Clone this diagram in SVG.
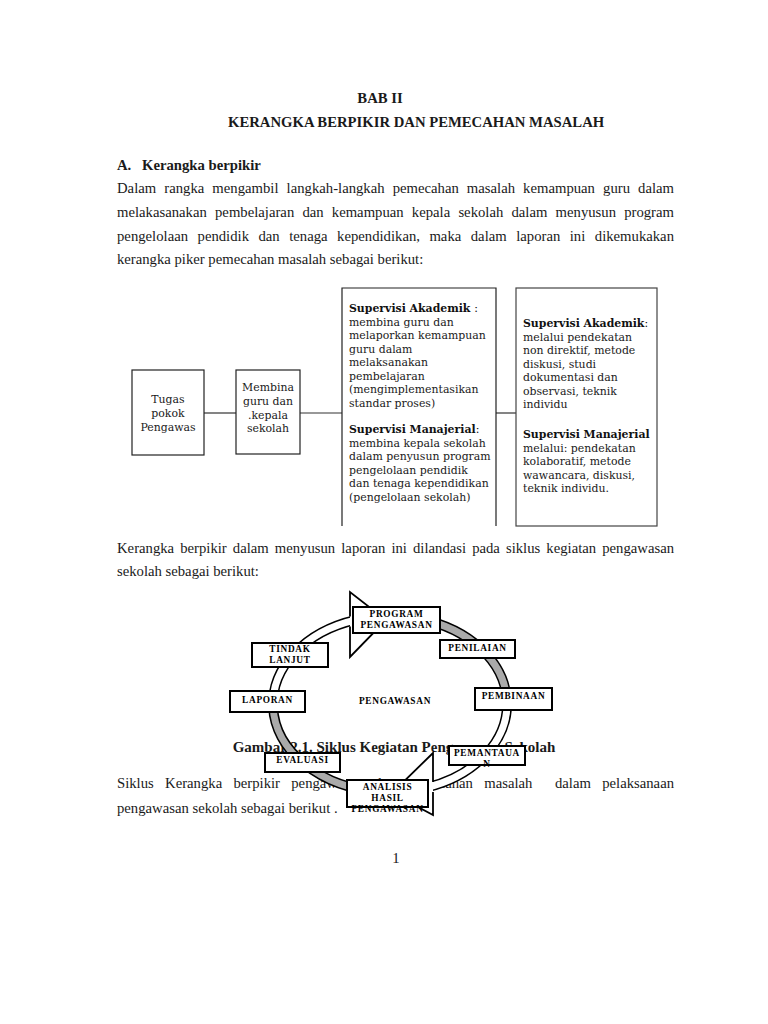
<svg xmlns="http://www.w3.org/2000/svg" width="768" height="1024" viewBox="0 0 768 1024">
<style>
.body{font-family:"Liberation Serif","Times New Roman",serif;font-size:14.7px;fill:#1a1a1a}
.bold{font-weight:bold}
.bx{font-family:"DejaVu Serif","Liberation Serif",serif;font-size:10.9px;fill:#1a1a1a}
.bxb{font-family:"DejaVu Serif","Liberation Serif",serif;font-size:10.9px;font-weight:bold;fill:#111}
.box{fill:#fff;stroke:#222;stroke-width:1.2}
.line{stroke:#333;stroke-width:1.2;fill:none}
.cb{fill:#fff;stroke:#000;stroke-width:2}
.cl{font-family:"Liberation Serif","Times New Roman",serif;font-size:9.3px;font-weight:bold;letter-spacing:0.7px;fill:#000;text-anchor:middle}
.bandO{fill:none;stroke:#000;stroke-width:10}
.bandW{fill:none;stroke:#fff;stroke-width:7}
.bandG{fill:none;stroke:#aaa;stroke-width:7}
.ah{fill:#fff;stroke:none}
.ahl{fill:none;stroke:#000;stroke-width:1.8;stroke-linejoin:miter}
</style>

<!-- Page text -->
<g id="page-text">
<text class="body bold" x="380" y="103" text-anchor="middle">BAB II</text>
<text class="body bold" x="228" y="127">KERANGKA BERPIKIR DAN PEMECAHAN MASALAH</text>
<text class="body bold" x="117" y="170">A.</text>
<text class="body bold" x="142" y="170">Kerangka berpikir</text>
<text class="body" x="117" y="193" word-spacing="4.4" textLength="557" lengthAdjust="spacing">Dalam rangka mengambil langkah-langkah pemecahan masalah kemampuan guru dalam</text>
<text class="body" x="117" y="217" word-spacing="4.5" textLength="557" lengthAdjust="spacing">melakasanakan pembelajaran dan kemampuan kepala sekolah dalam menyusun program</text>
<text class="body" x="117" y="241" word-spacing="5.8" textLength="557" lengthAdjust="spacing">pengelolaan pendidik dan tenaga kependidikan, maka dalam laporan ini dikemukakan</text>
<text class="body" x="117" y="264">kerangka piker pemecahan masalah sebagai berikut:</text>
<text class="body" x="117" y="553" word-spacing="2.4" textLength="557" lengthAdjust="spacing">Kerangka berpikir dalam menyusun laporan ini dilandasi pada siklus kegiatan pengawasan</text>
<text class="body" x="117" y="576">sekolah sebagai berikut:</text>
<text class="body bold" x="394" y="752" text-anchor="middle" style="font-size:15px">Gambar 2.1. Siklus Kegiatan Pengawasan Sekolah</text>
<text class="body" x="117" y="788" word-spacing="7.6" textLength="557" lengthAdjust="spacing" xml:space="preserve">Siklus Kerangka berpikir pengawasan dan pemecahan masalah  dalam pelaksanaan</text>
<text class="body" x="117" y="813">pengawasan sekolah sebagai berikut .</text>
<text class="body" x="396" y="863" text-anchor="middle">1</text>
</g>

<!-- Framework diagram connectors -->
<g id="connectors">
<line class="line" x1="204" y1="413" x2="236" y2="413"/>
<line class="line" x1="300" y1="413" x2="342" y2="413"/>
<line class="line" x1="496" y1="413" x2="516" y2="413"/>
</g>

<g id="node-tugas">
<rect class="box" x="132" y="370" width="72" height="85"/>
<text class="bx" x="168" y="403" text-anchor="middle">Tugas</text>
<text class="bx" x="168" y="417" text-anchor="middle">pokok</text>
<text class="bx" x="168" y="431" text-anchor="middle">Pengawas</text>
</g>

<g id="node-membina">
<rect class="box" x="236" y="370" width="64" height="84"/>
<text class="bx" x="268" y="391" text-anchor="middle">Membina</text>
<text class="bx" x="268" y="405" text-anchor="middle">guru dan</text>
<text class="bx" x="268" y="419" text-anchor="middle">.kepala</text>
<text class="bx" x="268" y="432" text-anchor="middle">sekolah</text>
</g>

<g id="node-supervisi-tujuan">
<path class="line" d="M342,526 V288 H496 V526" style="stroke:#222"/>
<text class="bxb" x="349" y="312">Supervisi Akademik <tspan style="font-weight:normal">:</tspan></text>
<text class="bx" x="349" y="325.5">membina guru dan</text>
<text class="bx" x="349" y="339">melaporkan kemampuan</text>
<text class="bx" x="349" y="352.5">guru dalam</text>
<text class="bx" x="349" y="366">melaksanakan</text>
<text class="bx" x="349" y="379.5">pembelajaran</text>
<text class="bx" x="349" y="393">(mengimplementasikan</text>
<text class="bx" x="349" y="406.5">standar proses)</text>
<text class="bxb" x="349" y="433">Supervisi Manajerial<tspan style="font-weight:normal">:</tspan></text>
<text class="bx" x="349" y="446.5">membina kepala sekolah</text>
<text class="bx" x="349" y="460">dalam penyusun program</text>
<text class="bx" x="349" y="473.5">pengelolaan pendidik</text>
<text class="bx" x="349" y="487">dan tenaga kependidikan</text>
<text class="bx" x="349" y="500.5">(pengelolaan sekolah)</text>
</g>

<g id="node-supervisi-metode">
<rect class="box" x="516" y="288" width="141" height="238" style="stroke:#444"/>
<text class="bxb" x="523" y="327">Supervisi Akademik<tspan style="font-weight:normal">:</tspan></text>
<text class="bx" x="523" y="340.5">melalui pendekatan</text>
<text class="bx" x="523" y="354">non direktif, metode</text>
<text class="bx" x="523" y="367.5">diskusi, studi</text>
<text class="bx" x="523" y="381">dokumentasi dan</text>
<text class="bx" x="523" y="394.5">observasi, teknik</text>
<text class="bx" x="523" y="408">individu</text>
<text class="bxb" x="523" y="438">Supervisi Manajerial</text>
<text class="bx" x="523" y="451.5">melalui: pendekatan</text>
<text class="bx" x="523" y="465">kolaboratif, metode</text>
<text class="bx" x="523" y="478.5">wawancara, diskusi,</text>
<text class="bx" x="523" y="492">teknik individu.</text>
</g>

<!-- Cycle ring and arrows -->
<g id="cycle-connectors">
<path class="bandO" d="M355.8,619.8 A117,88 0 0 0 273.1,707.1"/>
<path class="bandW" d="M355.8,619.8 A117,88 0 0 0 273.1,707.1"/>
<path class="bandO" d="M273.1,707.1 A117,88 0 0 0 379.8,791.7"/>
<path class="bandG" d="M273.1,707.1 A117,88 0 0 0 379.8,791.7"/>
<path class="bandO" d="M426.2,787.7 A117,88 0 0 0 506.8,699.4"/>
<path class="bandW" d="M426.2,787.7 A117,88 0 0 0 506.8,699.4"/>
<path class="bandO" d="M506.8,699.4 A117,88 0 0 0 420.3,619"/>
<path class="bandG" d="M506.8,699.4 A117,88 0 0 0 420.3,619"/>
<polygon class="ah" points="350,592 386,620 350,657"/>
<path class="ahl" d="M350,616.5 L350,592 L386,620 L350,657 L350,626.5"/>
<polygon class="ah" points="433,753 392,793 433,815"/>
<path class="ahl" d="M433,782 L433,753 L392,793 L433,815 L433,792"/>
</g>

<g id="node-program">
<rect class="cb" x="353" y="607" width="87" height="26"/>
<text class="cl" x="396.5" y="617">PROGRAM</text>
<text class="cl" x="396.5" y="628">PENGAWASAN</text>
</g>
<g id="node-tindak">
<rect class="cb" x="252" y="643" width="76" height="24"/>
<text class="cl" x="290" y="652">TINDAK</text>
<text class="cl" x="290" y="663">LANJUT</text>
</g>
<g id="node-penilaian">
<rect class="cb" x="440" y="640" width="75" height="18"/>
<text class="cl" x="477.5" y="651">PENILAIAN</text>
</g>
<g id="node-laporan">
<rect class="cb" x="230" y="691" width="75" height="21"/>
<text class="cl" x="267.5" y="703">LAPORAN</text>
</g>
<g id="node-pengawasan">
<text class="cl" x="395" y="704">PENGAWASAN</text>
</g>
<g id="node-pembinaan">
<rect class="cb" x="475" y="688" width="77" height="22"/>
<text class="cl" x="513.5" y="699">PEMBINAAN</text>
</g>
<g id="node-evaluasi">
<rect class="cb" x="265" y="753" width="75" height="19"/>
<text class="cl" x="302.5" y="763">EVALUASI</text>
</g>
<g id="node-pemantauan">
<rect class="cb" x="449" y="746" width="76" height="19"/>
<text class="cl" x="487" y="756">PEMANTAUA</text>
<text class="cl" x="487" y="767">N</text>
</g>
<g id="node-analisis">
<rect class="cb" x="347" y="780" width="81" height="27"/>
<text class="cl" x="387.5" y="790">ANALISIS</text>
<text class="cl" x="387.5" y="801">HASIL</text>
<text class="cl" x="387.5" y="812">PENGAWASAN</text>
</g>
</svg>
